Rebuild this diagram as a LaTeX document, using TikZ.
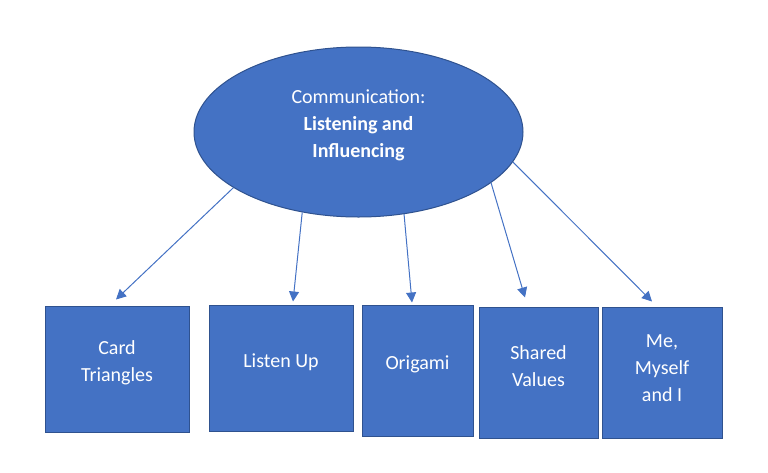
\documentclass[tikz,border=0pt]{standalone}
\usepackage{fontspec}
\setmainfont{Carlito}
\usetikzlibrary{shapes.geometric,arrows.meta}
\definecolor{fillblue}{HTML}{4472C4}
\definecolor{edgeblue}{HTML}{2F528F}
\definecolor{arrowblue}{HTML}{4472C4}
\tikzset{
  shapestyle/.style={fill=fillblue,draw=edgeblue,line width=1pt,inner sep=0pt},
  boxstyle/.style={shapestyle,rectangle},
  txt/.style={text=white,align=center,font=\fontsize{20pt}{27pt}\selectfont,inner sep=0pt},
  conn/.style={draw=arrowblue,line width=1pt,-{Triangle[length=10pt,width=10pt]}}
}
\begin{document}
\begin{tikzpicture}[x=1pt,y=-1pt]
\useasboundingbox (0,0) rectangle (768,472);
\node[shapestyle,ellipse,minimum width=329pt,minimum height=170pt] (ell) at (358.5,132) {};
\node[txt] (elltxt) at ([yshift=7pt]ell.center) {Communication:\\\textbf{Listening and}\\\textbf{Influencing}};

\node[boxstyle,minimum width=144pt,minimum height=126pt] (b1) at (117,369) {};
\node[boxstyle,minimum width=144pt,minimum height=126pt] (b2) at (281,368) {};
\node[boxstyle,minimum width=111pt,minimum height=131pt] (b3) at (417.5,370.5) {};
\node[boxstyle,minimum width=119pt,minimum height=131pt] (b4) at (538.5,372.5) {};
\node[boxstyle,minimum width=120pt,minimum height=131pt] (b5) at (662,372.5) {};

\node[txt] (t1) at ([yshift=6pt]b1.center) {Card\\Triangles};
\node[txt] (t2) at ([yshift=6pt]b2.center) {Listen Up};
\node[txt] (t3) at ([yshift=6pt]b3.center) {Origami};
\node[txt] (t4) at ([yshift=6pt]b4.center) {Shared\\Values};
\node[txt] (t5) at ([yshift=4pt]b5.center) {Me,\\Myself\\and I};

\coordinate (e1) at ([xshift=-1pt,yshift=6pt]b1.north);
\coordinate (e2) at ([xshift=12pt,yshift=3pt]b2.north);
\coordinate (e3) at ([xshift=-5.5pt,yshift=2pt]b3.north);
\coordinate (e4) at ([xshift=-13.5pt,yshift=9pt]b4.north);
\coordinate (e5) at ([xshift=-10pt,yshift=5pt]b5.north);

\draw[conn] (ell.204) -- (e1);
\draw[conn] (ell.235.8) -- (e2);
\draw[conn] (ell.299.8) -- (e3);
\draw[conn] (ell.339.6) -- (e4);
\draw[conn] (ell.349.1) -- (e5);
\end{tikzpicture}
\end{document}
